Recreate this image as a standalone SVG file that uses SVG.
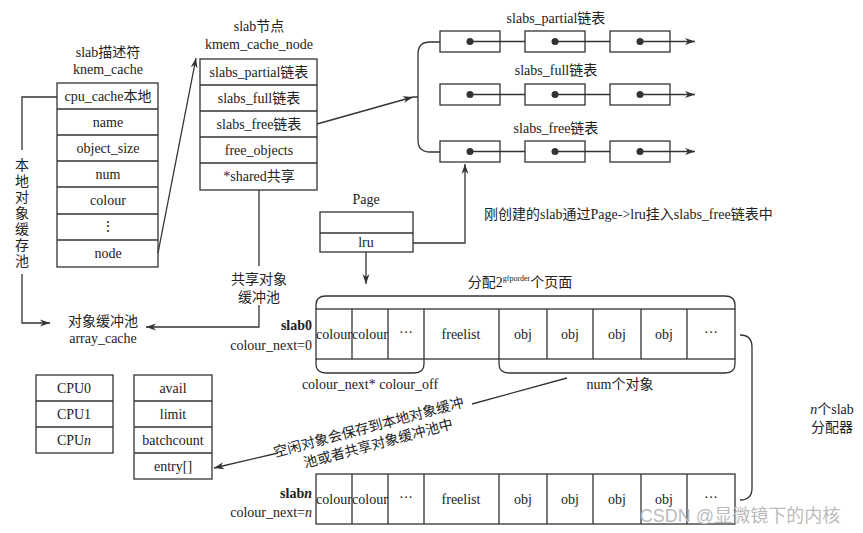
<svg xmlns="http://www.w3.org/2000/svg" width="863" height="533" viewBox="0 0 863 533">
<defs>
<marker id="ah" markerWidth="10" markerHeight="8" refX="10" refY="4" orient="auto" markerUnits="userSpaceOnUse"><path d="M0,0.5 L10,4 L0,7.5 L3,4 Z" fill="#333"/></marker>
<style>
text{font-family:"Liberation Serif","Noto Sans CJK SC",serif;font-size:14px;fill:#222;text-anchor:middle}
.b{fill:#fff;stroke:#333;stroke-width:1.3}
.l{fill:none;stroke:#333;stroke-width:1.3}
.a{fill:none;stroke:#333;stroke-width:1.3;marker-end:url(#ah)}
.d{fill:#333}
.r{text-anchor:end}
</style>
</defs>
<rect width="863" height="533" fill="#fff"/>

<g id="kmem_cache">
<text x="108" y="57">slab描述符</text>
<text x="108" y="74">knem_cache</text>
<rect class="b" x="57" y="83" width="101" height="184"/>
<path class="l" d="M57,109H158M57,135H158M57,161H158M57,187H158M57,214H158M57,240H158"/>
<text x="108" y="101">cpu_cache本地</text>
<text x="108" y="127">name</text>
<text x="108" y="153">object_size</text>
<text x="108" y="179">num</text>
<text x="108" y="205">colour</text>
<text x="108" y="231">⋮</text>
<text x="108" y="258">node</text>
</g>

<g id="kmem_cache_node">
<text x="259" y="31">slab节点</text>
<text x="259" y="49">kmem_cache_node</text>
<rect class="b" x="200" y="59" width="117" height="131"/>
<path class="l" d="M200,85H317M200,111H317M200,137H317M200,163H317"/>
<text x="259" y="77">slabs_partial链表</text>
<text x="259" y="103">slabs_full链表</text>
<text x="259" y="129">slabs_free链表</text>
<text x="259" y="155">free_objects</text>
<text x="259" y="181">*shared共享</text>
</g>

<g id="lists">
<text x="556" y="23">slabs_partial链表</text>
<text x="556" y="75">slabs_full链表</text>
<text x="556" y="133">slabs_free链表</text>
<g id="row1">
<rect class="b" x="440" y="31" width="60" height="21"/><rect class="b" x="525" y="31" width="60" height="21"/><rect class="b" x="610" y="31" width="60" height="21"/>
<circle class="d" cx="470" cy="41.5" r="3.5"/><circle class="d" cx="555" cy="41.5" r="3.5"/><circle class="d" cx="640" cy="41.5" r="3.5"/>
</g>
<g id="row2">
<rect class="b" x="440" y="84" width="60" height="21"/><rect class="b" x="525" y="84" width="60" height="21"/><rect class="b" x="610" y="84" width="60" height="21"/>
<circle class="d" cx="470" cy="94.5" r="3.5"/><circle class="d" cx="555" cy="94.5" r="3.5"/><circle class="d" cx="640" cy="94.5" r="3.5"/>
</g>
<g id="row3">
<rect class="b" x="440" y="141" width="60" height="21"/><rect class="b" x="525" y="141" width="60" height="21"/><rect class="b" x="610" y="141" width="60" height="21"/>
<circle class="d" cx="470" cy="151.5" r="3.5"/><circle class="d" cx="555" cy="151.5" r="3.5"/><circle class="d" cx="640" cy="151.5" r="3.5"/>
</g>
</g>

<g id="page">
<text x="366" y="204">Page</text>
<rect class="b" x="320" y="212" width="93" height="40"/>
<path class="l" d="M320,233H413"/>
<text x="366" y="247">lru</text>
</g>

<g id="cpus">
<rect class="b" x="36" y="375" width="77" height="78"/>
<path class="l" d="M36,401H113M36,427H113"/>
<text x="74" y="393">CPU0</text>
<text x="74" y="419">CPU1</text>
<text x="74" y="445">CPU<tspan font-style="italic">n</tspan></text>
</g>

<g id="array_cache">
<text x="103" y="326">对象缓冲池</text>
<text x="103" y="343">array_cache</text>
<rect class="b" x="134" y="375" width="78" height="104"/>
<path class="l" d="M134,401H212M134,427H212M134,453H212"/>
<text x="173" y="393">avail</text>
<text x="173" y="419">limit</text>
<text x="173" y="445">batchcount</text>
<text x="173" y="471">entry[]</text>
</g>

<g id="slab0">
<text class="r" x="312" y="330" font-weight="bold">slab0</text>
<text class="r" x="312" y="350">colour_next=0</text>
<rect class="b" x="316" y="309" width="419" height="50"/>
<path class="l" d="M352,309V359M388,309V359M424,309V359M499,309V359M547,309V359M593,309V359M641,309V359M687,309V359"/>
<text x="334" y="339">colour</text><text x="370" y="339">colour</text><text x="406" y="337">···</text>
<text x="461" y="339">freelist</text>
<text x="523" y="339">obj</text><text x="570" y="339">obj</text><text x="617" y="339">obj</text><text x="664" y="339">obj</text><text x="711" y="337">···</text>
<text x="520" y="287">分配2<tspan font-size="8" dy="-6">gfporder</tspan><tspan dy="6">个页面</tspan></text>
<path class="l" d="M316,309V305Q316,296 326,296H725Q735,296 735,305V309"/>
<path class="l" d="M316,359V364Q316,373 326,373H414Q424,373 424,364V359"/>
<path class="l" d="M499,359V364Q499,373 509,373H725Q735,373 735,364V359"/>
<text x="370" y="389">colour_next* colour_off</text>
<text x="620" y="389">num个对象</text>
</g>

<g id="slabn">
<text class="r" x="312" y="498" font-weight="bold">slab<tspan font-style="italic">n</tspan></text>
<text class="r" x="312" y="517">colour_next=<tspan font-style="italic">n</tspan></text>
<rect class="b" x="316" y="474" width="419" height="50"/>
<path class="l" d="M352,474V524M388,474V524M424,474V524M499,474V524M547,474V524M593,474V524M641,474V524M687,474V524"/>
<text x="334" y="504">colour</text><text x="370" y="504">colour</text><text x="406" y="502">···</text>
<text x="461" y="504">freelist</text>
<text x="523" y="504">obj</text><text x="570" y="504">obj</text><text x="617" y="504">obj</text><text x="664" y="504">obj</text><text x="711" y="502">···</text>
</g>

<g id="labels">
<text x="22" y="170">本</text><text x="22" y="186">地</text><text x="22" y="202">对</text><text x="22" y="218">象</text><text x="22" y="234">缓</text><text x="22" y="250">存</text><text x="22" y="266">池</text>
<text x="259" y="284">共享对象</text>
<text x="259" y="302">缓冲池</text>
<text x="484" y="219" style="text-anchor:start">刚创建的slab通过Page-&gt;lru挂入slabs_free链表中</text>
<text x="832" y="414"><tspan font-style="italic">n</tspan>个slab</text>
<text x="832" y="432">分配器</text>
<g transform="translate(370,432) rotate(-15)">
<text x="0" y="0">空闲对象会保存到本地对象缓冲</text>
<text x="5" y="18">池或者共享对象缓冲池中</text>
</g>
<text x="740" y="522" style="font-family:'Liberation Sans','Noto Sans CJK SC',sans-serif;font-size:18px;fill:#bbb">CSDN @显微镜下的内核</text>
</g>

<g id="connectors">
<path class="a" d="M158,253L196,58"/>
<path class="a" d="M57,97H22V150M22,274V323H50"/>
<path class="a" d="M259,190V266M259,305V327H146"/>
<path class="a" d="M317,124L413,97"/>
<path class="l" d="M413,97H418M440,42H430Q418,42 418,54V140Q418,152 430,152H440"/>
<path class="a" d="M470,41.5H525M555,41.5H610M640,41.5H695"/>
<path class="a" d="M470,94.5H525M555,94.5H610M640,94.5H695"/>
<path class="a" d="M470,151.5H525M555,151.5H610M640,151.5H695"/>
<path class="a" d="M413,243H465V164"/>
<path class="a" d="M366,252V284"/>
<path class="l" d="M472,404L567,378"/>
<path class="a" d="M278,453L214,468"/>
<path class="l" d="M740,335Q752,335 752,347V488Q752,500 740,500"/>
</g>
</svg>
